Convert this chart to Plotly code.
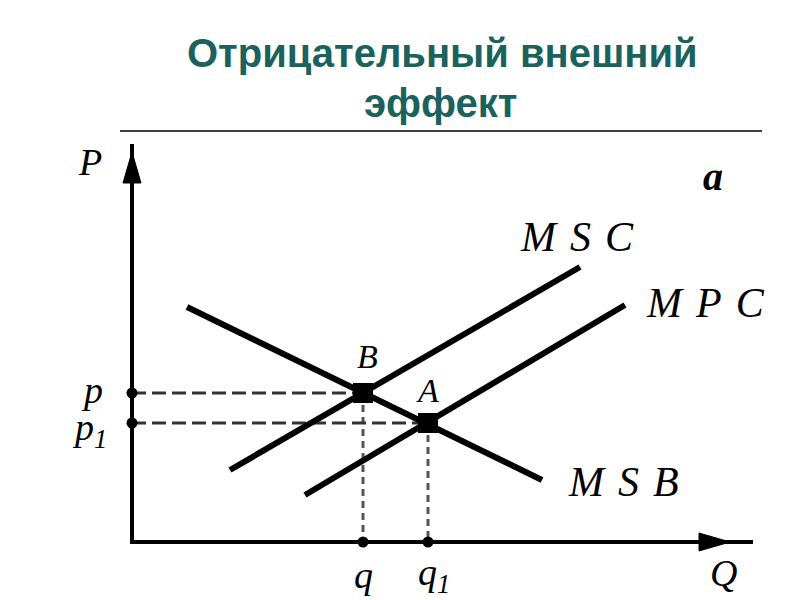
import plotly.graph_objects as go

# curve end points (Q, P)
msb_q = [5.5, 41.0]
msb_p = [23.5, 6.2]
msc_q = [9.8, 44.8]
msc_p = [7.2, 27.5]
mpc_q = [17.3, 49.3]
mpc_p = [4.7, 23.7]

# equilibrium points B and A
eq_names = ["B", "A"]
eq_q = [23.1, 29.6]
eq_p = [14.9, 11.9]

# axis lengths and arrow tips
q_max = 62.1
p_max = 39.8
q_tip = 59.8
p_tip = 39.0

title_lines = ["Отрицательный внешний", "эффект"]
teal = "#1b625e"
serif = "Liberation Serif, DejaVu Serif, serif"
sans = "Liberation Sans, Arial, sans-serif"
sp = "\u2004"

# page has an 8px body margin, so paper positions are shifted by it
def px(v):
  return (v - 8) / 800

def py(v):
  return 1 - (v - 8) / 600

fig = go.Figure()

# axes
fig.add_trace(go.Scatter(x=[0, 0, q_max], y=[p_max, 0, 0], mode="lines",
                         line=dict(color="black", width=4), hoverinfo="skip"))

# arrow heads
head_len, head_half = 3.1, 0.9
fig.add_trace(go.Scatter(x=[-head_half, 0, head_half, -head_half],
                         y=[p_tip - head_len, p_tip, p_tip - head_len, p_tip - head_len],
                         fill="toself", fillcolor="black", mode="lines",
                         line=dict(color="black", width=1)))
fig.add_trace(go.Scatter(x=[q_tip - head_len, q_tip, q_tip - head_len, q_tip - head_len],
                         y=[-head_half, 0, head_half, -head_half],
                         fill="toself", fillcolor="black", mode="lines",
                         line=dict(color="black", width=1)))

# dashed guides
for q, p in zip(eq_q, eq_p):
  fig.add_trace(go.Scatter(x=[0, q], y=[p, p], mode="lines",
                           line=dict(color="#333", width=3, dash="14px,6px")))
  fig.add_trace(go.Scatter(x=[q, q], y=[p, 0], mode="lines",
                           line=dict(color="#555", width=3, dash="7px,5px")))

# curves
for qs, ps in [(msb_q, msb_p), (msc_q, msc_p), (mpc_q, mpc_p)]:
  fig.add_trace(go.Scatter(x=qs, y=ps, mode="lines",
                           line=dict(color="black", width=6)))

# dots on axes
fig.add_trace(go.Scatter(x=[0, 0] + eq_q, y=eq_p + [0, 0], mode="markers",
                         marker=dict(color="black", size=11)))
# squares at equilibria
fig.add_trace(go.Scatter(x=eq_q, y=eq_p, mode="markers",
                         marker=dict(color="black", size=20, symbol="square")))

def label(txt, x, y, size=38, weight="normal"):
  fig.add_annotation(x=x, y=y, text=txt, showarrow=False,
                     font=dict(family=serif, size=size, color="black", style="italic", weight=weight))

label("P", -4.2, 38.0)
label("Q", 59.1, -3.1)
label("a", 58.1, 36.6, 40, "bold")
label(sp.join("MSC"), 44.5, 30.5, 42)
label(sp.join("MPC"), 57.3, 23.9, 42)
label(sp.join("MSB"), 49.1, 6.0, 42)
label(eq_names[0], 23.5, 18.6, 34)
label(eq_names[1], 29.5, 15.2, 34)
label("p", -4.0, 15.2)
label("p<sub>1</sub>", -4.3, 11.2)
label("q", eq_q[0], -3.3)
label("q<sub>1</sub>", eq_q[1] + 0.6, -3.3)

# title
fig.add_annotation(x=px(442), y=py(53), xref="paper", yref="paper", yanchor="middle",
                   text="<b>" + title_lines[0] + "</b>", showarrow=False,
                   font=dict(family=sans, size=40, color=teal))
fig.add_annotation(x=px(440), y=py(103), xref="paper", yref="paper", yanchor="middle",
                   text="<b>" + title_lines[1] + "</b>", showarrow=False,
                   font=dict(family=sans, size=40, color=teal))
fig.add_shape(type="line", xref="paper", yref="paper", x0=px(120), x1=px(762),
              y0=py(131), y1=py(131), line=dict(color="black", width=1.5))

fig.update_layout(width=800, height=600, margin=dict(l=0, r=0, t=0, b=0),
                  plot_bgcolor="white", paper_bgcolor="white", showlegend=False,
                  xaxis=dict(range=[-12.4, 67.6], visible=False, fixedrange=True),
                  yaxis=dict(range=[-6.6, 53.4], visible=False, fixedrange=True))

fig.write_html("out.html")
